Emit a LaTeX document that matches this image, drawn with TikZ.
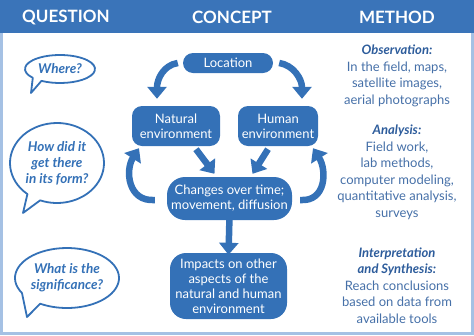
\documentclass[tikz,border=0pt]{standalone}
\usepackage{fontspec}
\setmainfont{Lato}
\usetikzlibrary{arrows.meta}
\definecolor{mainblue}{RGB}{52,113,183}
\definecolor{headblue}{RGB}{58,116,185}
\definecolor{edgeblue}{RGB}{165,193,228}
\definecolor{methblue}{RGB}{70,112,168}
\definecolor{titleblue}{RGB}{45,92,155}
\tikzset{
  conc/.style={fill=mainblue, text=white, align=center, inner sep=0pt,
    font=\fontsize{13}{15}\selectfont},
  bigarrow/.style={draw=mainblue, line width=6.5pt, -{Triangle[width=19pt,length=12pt]}},
  bubble/.style={draw=mainblue, line width=1.8pt, fill=white, line join=round},
  bubtext/.style={text=mainblue, align=center, font=\bfseries\itshape\fontsize{13.5}{16}\selectfont},
  head/.style={text=white, font=\bfseries\fontsize{17}{18}\selectfont},
  meth/.style={text=methblue, align=center, font=\fontsize{13}{16.5}\selectfont}
}
\begin{document}
\begin{tikzpicture}[x=1pt,y=-1pt]
\useasboundingbox (0,0) rectangle (474,335);
% frame
\draw[edgeblue, line width=3pt] (1.5,0) -- (1.5,333) -- (472.5,333) -- (472.5,0);
\fill[headblue] (0,0) rectangle (474,33);
\node[head] (hq) at (66,17.5) {QUESTION};
\node[head] (hc) at (232,17.5) {CONCEPT};
\node[head] (hm) at (397,17.5) {METHOD};

% speech bubbles
\coordinate (b1c) at (60,69);
\coordinate (b1t) at (31,93);
\draw[bubble] (b1c) ++(141:35 and 14) arc[start angle=141, end angle=482, x radius=35, y radius=14] -- (b1t) -- cycle;
\node[bubtext] (b1) at (b1c) {Where?};

\coordinate (b2c) at (57,163);
\coordinate (b2t) at (23,213);
\draw[bubble] (b2c) ++(129:47 and 40) arc[start angle=129, end angle=471, x radius=47, y radius=40] -- (b2t) -- cycle;
\node[bubtext] (b2) at (b2c) {How did it\\get there\\in its form?};

\coordinate (b3c) at (67,278);
\coordinate (b3t) at (27,317);
\draw[bubble] (b3c) ++(150:52 and 30) arc[start angle=150, end angle=481, x radius=52, y radius=30] -- (b3t) -- cycle;
\node[bubtext] (b3) at (b3c) {What is the\\significance?};

% concept nodes
\node[conc, rounded corners=10pt, minimum width=90pt, minimum height=20pt] (loc) at (228,63) {Location};
\node[conc, rounded corners=10pt, minimum width=88pt, minimum height=40pt] (nat) at (176,126) {Natural\\environment};
\node[conc, rounded corners=10pt, minimum width=80pt, minimum height=40pt] (hum) at (278,126) {Human\\environment};
\node[conc, rounded corners=18pt, minimum width=125pt, minimum height=43pt] (chg) at (229.5,198.5) {Changes over time;\\movement, diffusion};
\node[conc, rounded corners=16pt, minimum width=117pt, minimum height=66pt] (imp) at (228.5,286) {Impacts on other\\aspects of the\\natural and human\\environment};

% arrows
\draw[bigarrow] ([xshift=-5pt]loc.west) .. controls +(-14,2) and +(0,-20) .. ([shift={(-19,-7)}]nat.north);
\draw[bigarrow] ([xshift=6pt]loc.east) .. controls +(14,2) and +(0,-20) .. ([shift={(24,-7)}]hum.north);
\draw[bigarrow] ([shift={(20,3)}]nat.south) -- ([shift={(-15,-3)}]chg.north);
\draw[bigarrow] ([shift={(-10,3)}]hum.south) -- ([shift={(23,-3)}]chg.north);
\draw[bigarrow] ([yshift=4pt]chg.south) -- ([yshift=-2pt]imp.north);
\draw[bigarrow] ([shift={(-12,1.5)}]chg.west) .. controls +(-27,2) and +(-14,22) .. ([shift={(-37,2)}]nat.south);
\draw[bigarrow] ([shift={(8,1.5)}]chg.east) .. controls +(26,2) and +(14,22) .. ([shift={(35,2)}]hum.south);

% method column
\node[meth] (m1) at (397,76) {{\color{titleblue}\bfseries\itshape Observation:}\\In the field, maps,\\satellite images,\\aerial photographs};
\node[meth] (m2) at (397,172.5) {{\color{titleblue}\bfseries\itshape Analysis:}\\Field work,\\lab methods,\\computer modeling,\\quantitative analysis,\\surveys};
\node[meth] (m3) at (397,285.5) {{\color{titleblue}\bfseries\itshape Interpretation}\\{\color{titleblue}\bfseries\itshape and Synthesis:}\\Reach conclusions\\based on data from\\available tools};
\end{tikzpicture}
\end{document}
